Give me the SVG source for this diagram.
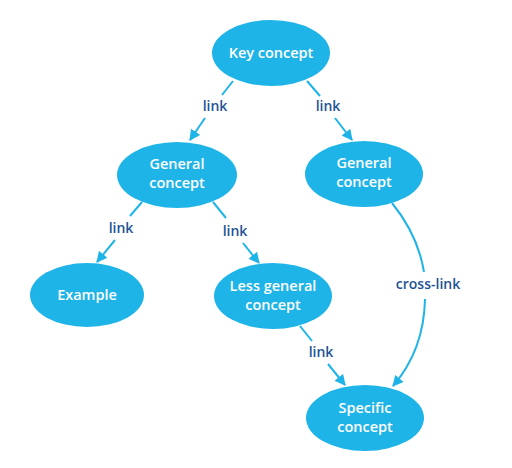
<svg xmlns="http://www.w3.org/2000/svg" width="512" height="468" viewBox="0 0 512 468">
<style>
.node ellipse{fill:#1eb4e8}
.node text{fill:#ffffff;font-family:"Open Sans","Liberation Sans",sans-serif;font-weight:600;font-size:14.5px;text-anchor:middle}
.edge{stroke:#1eb4e8;stroke-width:2;fill:none}
.lbl{fill:#1d5396;font-family:"Open Sans","Liberation Sans",sans-serif;font-weight:600;font-size:14px;text-anchor:middle}
</style>
<defs>
<marker id="arr" viewBox="0 0 10 10" refX="9" refY="5" markerWidth="5.5" markerHeight="5.5" orient="auto" markerUnits="strokeWidth">
<path d="M0,0 L10,5 L0,10 z" fill="#1eb4e8"/>
</marker>
</defs>
<rect width="512" height="468" fill="#ffffff"/>
<g id="connectors">
<line class="edge" x1="233" y1="81" x2="222" y2="95"/>
<line class="edge" x1="205" y1="118" x2="190" y2="140" marker-end="url(#arr)"/>
<text class="lbl" x="215" y="111">link</text>
<line class="edge" x1="307" y1="81" x2="320" y2="96"/>
<line class="edge" x1="335" y1="118" x2="352" y2="140" marker-end="url(#arr)"/>
<text class="lbl" x="328" y="111">link</text>
<line class="edge" x1="142" y1="202" x2="130" y2="216"/>
<line class="edge" x1="115" y1="240" x2="97" y2="262" marker-end="url(#arr)"/>
<text class="lbl" x="121" y="233">link</text>
<line class="edge" x1="213" y1="202" x2="226" y2="218"/>
<line class="edge" x1="243" y1="243" x2="259" y2="263" marker-end="url(#arr)"/>
<text class="lbl" x="235" y="236">link</text>
<line class="edge" x1="300" y1="326" x2="312" y2="341"/>
<line class="edge" x1="328" y1="364" x2="345" y2="385" marker-end="url(#arr)"/>
<text class="lbl" x="321" y="357">link</text>
<path class="edge" d="M392,203 Q418,235 424,272"/>
<path class="edge" d="M425,299 Q424,350 393,386" marker-end="url(#arr)"/>
<text class="lbl" x="428" y="289">cross-link</text>
</g>
<g id="key" class="node">
<ellipse cx="271" cy="53" rx="59" ry="33"/>
<text x="271" y="58">Key concept</text>
</g>
<g id="general-left" class="node">
<ellipse cx="177" cy="175" rx="60" ry="33"/>
<text x="177" y="169">General</text>
<text x="177" y="188">concept</text>
</g>
<g id="general-right" class="node">
<ellipse cx="364" cy="174" rx="59" ry="33"/>
<text x="364" y="168">General</text>
<text x="364" y="187">concept</text>
</g>
<g id="example" class="node">
<ellipse cx="87" cy="295" rx="57" ry="32"/>
<text x="87" y="300">Example</text>
</g>
<g id="less-general" class="node">
<ellipse cx="273" cy="296" rx="59" ry="33"/>
<text x="273" y="291">Less general</text>
<text x="273" y="310">concept</text>
</g>
<g id="specific" class="node">
<ellipse cx="365" cy="418" rx="59" ry="33"/>
<text x="365" y="413">Specific</text>
<text x="365" y="432">concept</text>
</g>
</svg>
